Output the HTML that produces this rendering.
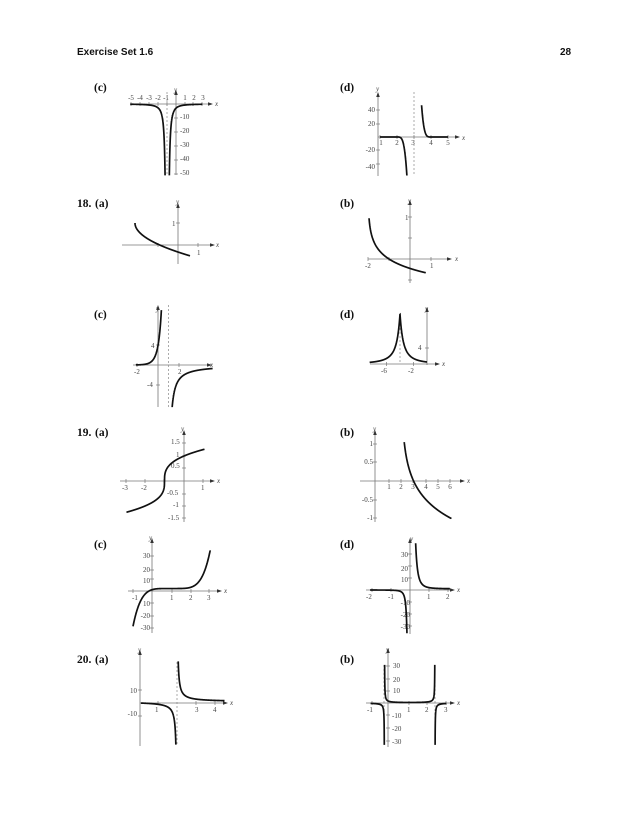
<!DOCTYPE html>
<html><head><meta charset="utf-8">
<style>
html,body{margin:0;padding:0;background:#fff;}
svg{display:block;}
.h{font-family:"Liberation Sans",sans-serif;font-weight:bold;font-size:10px;fill:#111;}
.lb{font-family:"Liberation Serif",serif;font-weight:bold;font-size:11.5px;fill:#111;}
.t{font-family:"Liberation Serif",serif;font-size:7px;fill:#444;}
.ax{font-family:"Liberation Serif",serif;font-style:italic;font-size:7px;fill:#444;}
</style></head><body>
<svg id="s" width="638" height="826" viewBox="0 0 638 826" xmlns="http://www.w3.org/2000/svg">
<text class="h" x="77" y="55">Exercise Set 1.6</text>
<text class="h" x="560" y="55">28</text>

<text class="lb" x="94" y="91">(c)</text><text class="lb" x="340" y="91">(d)</text>
<text class="lb" x="77" y="207">18.</text><text class="lb" x="95" y="207">(a)</text><text class="lb" x="340" y="207">(b)</text>
<text class="lb" x="94" y="318">(c)</text><text class="lb" x="340" y="318">(d)</text>
<text class="lb" x="77" y="436">19.</text><text class="lb" x="95" y="436">(a)</text><text class="lb" x="340" y="436">(b)</text>
<text class="lb" x="94" y="548">(c)</text><text class="lb" x="340" y="548">(d)</text>
<text class="lb" x="77" y="663">20.</text><text class="lb" x="95" y="663">(a)</text><text class="lb" x="340" y="663">(b)</text>

<g class="t" text-anchor="middle">
<text x="131" y="100">-5</text><text x="140" y="100">-4</text><text x="149" y="100">-3</text><text x="158" y="100">-2</text><text x="166" y="100">-1</text><text x="185" y="100">1</text><text x="194" y="100">2</text><text x="203" y="100">3</text>
</g>
<g class="t"><text x="180" y="119">-10</text><text x="180" y="133">-20</text><text x="180" y="147">-30</text><text x="180" y="161">-40</text><text x="180" y="175">-50</text></g>
<text class="ax" x="174" y="92">y</text><text class="ax" x="215" y="106">x</text>
<g class="t" text-anchor="middle"><text x="381" y="145">1</text><text x="397" y="145">2</text><text x="413" y="145">3</text><text x="431" y="145">4</text><text x="448" y="145">5</text></g>
<g class="t" text-anchor="end"><text x="375" y="112">40</text><text x="375" y="126">20</text><text x="375" y="152">-20</text><text x="375" y="169">-40</text></g>
<text class="ax" x="376" y="91">y</text><text class="ax" x="462" y="140">x</text>
<g class="t"><text x="197" y="255">1</text><text x="172" y="226">1</text></g>
<text class="ax" x="176" y="204">y</text><text class="ax" x="216" y="247">x</text>
<g class="t"><text x="365" y="268">-2</text><text x="430" y="268">1</text><text x="405" y="220">1</text></g>
<text class="ax" x="408" y="203">y</text><text class="ax" x="455" y="261">x</text>
<g class="t"><text x="134" y="374">-2</text><text x="178" y="374">2</text><text x="151" y="348">4</text><text x="147" y="387">-4</text></g>
<text class="ax" x="156" y="311">y</text><text class="ax" x="210" y="367">x</text>
<g class="t"><text x="381" y="373">-6</text><text x="408" y="373">-2</text><text x="418" y="350">4</text></g>
<text class="ax" x="425" y="311">y</text><text class="ax" x="442" y="366">x</text>
<g class="t"><text x="122" y="490">-3</text><text x="141" y="490">-2</text><text x="201" y="490">1</text>
<text x="171" y="444">1.5</text><text x="176" y="457">1</text><text x="171" y="468">0.5</text><text x="167" y="495">-0.5</text><text x="173" y="507">-1</text><text x="168" y="520">-1.5</text></g>
<text class="ax" x="181" y="431">y</text><text class="ax" x="217" y="483">x</text>
<g class="t" text-anchor="middle"><text x="389" y="489">1</text><text x="401" y="489">2</text><text x="413" y="489">3</text><text x="426" y="489">4</text><text x="438" y="489">5</text><text x="450" y="489">6</text></g>
<g class="t" text-anchor="end"><text x="373" y="446">1</text><text x="373" y="464">0.5</text><text x="373" y="502">-0.5</text><text x="373" y="520">-1</text></g>
<text class="ax" x="373" y="431">y</text><text class="ax" x="467" y="483">x</text>
<g class="t"><text x="132" y="600">-1</text><text x="170" y="600">1</text><text x="189" y="600">2</text><text x="207" y="600">3</text></g>
<g class="t" text-anchor="end"><text x="150" y="558">30</text><text x="150" y="572">20</text><text x="150" y="583">10</text><text x="150" y="606">10</text><text x="150" y="618">-20</text><text x="150" y="630">-30</text></g>
<text class="ax" x="149" y="540">y</text><text class="ax" x="224" y="593">x</text>
<g class="t"><text x="366" y="599">-2</text><text x="388" y="599">-1</text><text x="427" y="599">1</text><text x="446" y="599">2</text></g>
<g class="t" text-anchor="end"><text x="408" y="557">30</text><text x="408" y="571">20</text><text x="408" y="582">10</text><text x="410" y="605">-10</text><text x="410" y="617">-20</text><text x="410" y="629">-30</text></g>
<text class="ax" x="410" y="541">y</text><text class="ax" x="457" y="592">x</text>
<g class="t"><text x="155" y="712">1</text><text x="195" y="712">3</text><text x="213" y="712">4</text></g>
<g class="t" text-anchor="end"><text x="137" y="693">10</text><text x="137" y="716">-10</text></g>
<text class="ax" x="138" y="652">y</text><text class="ax" x="230" y="705">x</text>
<g class="t"><text x="367" y="712">-1</text><text x="407" y="712">1</text><text x="425" y="712">2</text><text x="444" y="712">3</text>
<text x="393" y="668">30</text><text x="393" y="682">20</text><text x="393" y="693">10</text><text x="392" y="718">-10</text><text x="392" y="731">-20</text><text x="392" y="744">-30</text></g>
<text class="ax" x="386" y="652">y</text><text class="ax" x="457" y="705">x</text>
<g id="g"></g>
</svg>
<script>
var g=document.getElementById('g'),NS='http://www.w3.org/2000/svg',cid=0;
function el(n,a,p){var e=document.createElementNS(NS,n);for(var k in a)e.setAttribute(k,a[k]);(p||g).appendChild(e);return e;}
function axes(x0,x1,yA,xA,y0,y1,xt,yt){
 el('line',{x1:x0,y1:yA,x2:x1-3,y2:yA,stroke:'#777','stroke-width':0.8});
 el('path',{d:'M'+x1+' '+yA+'l-5 -1.8v3.6z',fill:'#333'});
 el('line',{x1:xA,y1:y0+3,x2:xA,y2:y1,stroke:'#777','stroke-width':0.8});
 el('path',{d:'M'+xA+' '+y0+'l-1.8 5h3.6z',fill:'#333'});
 (xt||[]).forEach(function(t){el('line',{x1:t,y1:yA-2,x2:t,y2:yA+2,stroke:'#777','stroke-width':0.7});});
 (yt||[]).forEach(function(t){el('line',{x1:xA-2,y1:t,x2:xA+2,y2:t,stroke:'#777','stroke-width':0.7});});
}
function dash(x,y0,y1){el('line',{x1:x,y1:y0,x2:x,y2:y1,stroke:'#888','stroke-width':0.7,'stroke-dasharray':'2,2'});}
function plot(ox,oy,sx,sy,f,segs,ymin,ymax){
 cid++;var cp=el('clipPath',{id:'c'+cid});
 el('rect',{x:0,y:oy-ymax*sy,width:638,height:(ymax-ymin)*sy},cp);
 var d='';
 segs.forEach(function(s){var n=800;for(var i=0;i<=n;i++){var x=s[0]+(s[1]-s[0])*i/n,y=f(x);
  if(y>ymax+50)y=ymax+50;if(y<ymin-50)y=ymin-50;
  d+=(i?'L':'M')+(ox+x*sx).toFixed(2)+' '+(oy-y*sy).toFixed(2);}});
 el('path',{d:d,fill:'none',stroke:'#111','stroke-width':1.7,'clip-path':'url(#c'+cid+')'});
}
axes(130,213,104,176,90,175,[131,140,149,158,167,185,193,202],[118,132,146,160,174]);
dash(167,92,175);
plot(176,104,8.8,1.4,function(x){return -3/((x+1)*(x+1));},[[-5.2,-1.001],[-0.999,3]],-51,5);
axes(378,460,137,378,92,176,[380,397,414,431,448],[110,124,150,164]);
dash(414,92,176);
plot(363,137,17,0.675,function(x){if(x<3)return -500*Math.pow(Math.max(0,x-2),4);return 500*Math.pow(Math.max(0,4-x),4);},[[1,2.999],[3.001,5]],-57,47);
axes(122,215,245,178,203,264,[158,198],[223]);
plot(178,245,20,22,function(x){return 1-0.9*Math.sqrt(Math.max(0,x+2.15));},[[-2.15,0.6]],-3,3);
axes(368,452,259,410,200,283,[368,389,431],[217,238,280]);
plot(410,259,21,42,function(x){return -0.324*Math.log(x+2);},[[-1.999,0.75]],-1,0.97);
axes(133,212,365,158,305,407,[137,179],[345,385]);
dash(168.5,305,407);
plot(158,365,10.5,4.9,function(x){return x<1?4*Math.exp(2*x)/(1-x):-3/(x-1);},[[-2.1,0.999],[1.001,5.2]],-8.6,11.2);
axes(370,440,364,427,307,365,[386.5,413.5],[348]);
dash(400,316,364);
plot(427,364,6.75,4,function(x){var d=1+Math.abs(x+4);return 12.5/(d*d);},[[-8.5,0]],-1,13);
axes(120,215,481,184,430,522,[126,145,164,203],[443,456,468,494,506,518]);
plot(184,481,19.5,25,function(x){return Math.cbrt(x+1);},[[-2.95,1.05]],-2,2);
axes(360,465,481,375,430,522,[389,401,413,426,438,450],[444,462,500,518]);
plot(377,481,12.2,37,function(x){return -0.72*Math.log(x-2);},[[2.2,6.1]],-1.03,1.05);
axes(128,222,591,152,538,633,[133,172,191,209],[556,570,579,603,616,628]);
plot(152,591,19,1.23,function(x){return x<1?2-0.96*Math.pow(1-x,5):2+0.83*Math.pow(x-1,5);},[[-1,3.1]],-31,33);
axes(366,455,590,410,538,634,[372,391,429,448],[554,566,578,602,614,626]);
plot(410,590,19,1.2,function(x){return x>0?1+1/(x*x*x):0.15/(x*x*x);},[[-2.1,-0.001],[0.001,2.1]],-36,39);
axes(140,228,703,140,650,746,[158,196,215],[690,716]);
dash(177,662,745);
plot(139,703,19,1.3,function(x){return 1+2/(x-2);},[[0.1,1.999],[2.001,4.5]],-32,32);
axes(366,455,703,388,648,747,[372,409,427,446],[666,679,691,715,728,741]);
dash(384,665,745);dash(435,665,745);
plot(390,703,18.5,1.23,function(x){return 0.3*(1/(x+0.3)+1/(2.43-x));},[[-1.05,-0.301],[-0.299,2.429],[2.431,3.05]],-34,31);
</script>
</body></html>
